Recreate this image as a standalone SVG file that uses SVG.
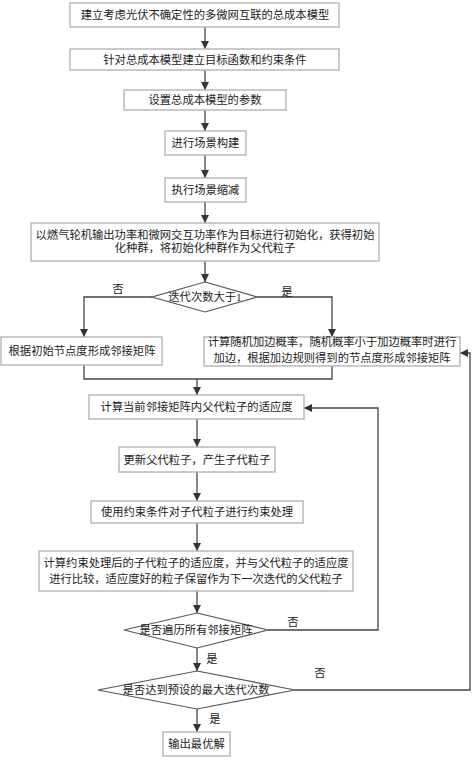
<svg xmlns="http://www.w3.org/2000/svg" width="474" height="760" viewBox="0 0 474 760">
<defs>
<style>
.box{fill:#fff;stroke:#b4b4b4;stroke-width:1.4}
.dia{fill:#fff;stroke:#555;stroke-width:1.2}
.t{font-family:"Liberation Serif","Noto Sans CJK SC",serif;font-size:11.3px;fill:#222;text-anchor:middle}
.c{fill:none;stroke:#444;stroke-width:1.3}
</style>
<marker id="ah" markerUnits="userSpaceOnUse" markerWidth="10" markerHeight="10" refX="8" refY="4" orient="auto">
<path d="M0,0 L8,4 L0,8 Z" fill="#333"/>
</marker>
</defs>
<rect width="474" height="760" fill="#fff"/>
<g id="connectors">
<path class="c" d="M205,27 V49" marker-end="url(#ah)"/>
<path class="c" d="M205,70 V90" marker-end="url(#ah)"/>
<path class="c" d="M205,110 V131" marker-end="url(#ah)"/>
<path class="c" d="M205,155 V178" marker-end="url(#ah)"/>
<path class="c" d="M205,202 V223" marker-end="url(#ah)"/>
<path class="c" d="M205,261 V282" marker-end="url(#ah)"/>
<path class="c" d="M152,297 H84 V337" marker-end="url(#ah)"/>
<path class="c" d="M257,297 H332 V337" marker-end="url(#ah)"/>
<path class="c" d="M84,365 V379 H332 V366"/>
<path class="c" d="M197,379 V395" marker-end="url(#ah)"/>
<path class="c" d="M197,419 V447" marker-end="url(#ah)"/>
<path class="c" d="M197,472 V501" marker-end="url(#ah)"/>
<path class="c" d="M197,523 V551" marker-end="url(#ah)"/>
<path class="c" d="M197,591 V613" marker-end="url(#ah)"/>
<path class="c" d="M197,648 V671" marker-end="url(#ah)"/>
<path class="c" d="M197,709 V732" marker-end="url(#ah)"/>
<path class="c" d="M268,630 H378 V408 H304" marker-end="url(#ah)"/>
<path class="c" d="M295,690 H470 V353 H460" marker-end="url(#ah)"/>
<text class="t" x="118" y="293">否</text>
<text class="t" x="287" y="296">是</text>
<text class="t" x="293" y="626">否</text>
<text class="t" x="212" y="663">是</text>
<text class="t" x="320" y="677">否</text>
<text class="t" x="215" y="723">是</text>
</g>
<g id="n1"><rect class="box" x="70" y="3" width="269" height="24"/><text class="t" x="205" y="19">建立考虑光伏不确定性的多微网互联的总成本模型</text></g>
<g id="n2"><rect class="box" x="70" y="49" width="269" height="21"/><text class="t" x="205" y="63.5">针对总成本模型建立目标函数和约束条件</text></g>
<g id="n3"><rect class="box" x="124" y="90" width="162" height="20"/><text class="t" x="205" y="104">设置总成本模型的参数</text></g>
<g id="n4"><rect class="box" x="165" y="131" width="81" height="24"/><text class="t" x="205.5" y="147">进行场景构建</text></g>
<g id="n5"><rect class="box" x="165" y="178" width="81" height="24"/><text class="t" x="205.5" y="194">执行场景缩减</text></g>
<g id="n6"><rect class="box" x="31" y="223" width="348" height="38"/><text class="t" x="205" y="239">以燃气轮机输出功率和微网交互功率作为目标进行初始化，获得初始</text><text class="t" x="205" y="252">化种群，将初始化种群作为父代粒子</text></g>
<g id="d1"><polygon class="dia" points="205,282 257,297 205,312 152,297"/><text class="t" x="205" y="301">迭代次数大于1</text></g>
<g id="n7"><rect class="box" x="1" y="337" width="161" height="28"/><text class="t" x="82" y="355">根据初始节点度形成邻接矩阵</text></g>
<g id="n8"><rect class="box" x="204" y="337" width="256" height="29"/><text class="t" x="332" y="346">计算随机加边概率，随机概率小于加边概率时进行</text><text class="t" x="332" y="362">加边，根据加边规则得到的节点度形成邻接矩阵</text></g>
<g id="n9"><rect class="box" x="89" y="395" width="215" height="24"/><text class="t" x="196.5" y="411">计算当前邻接矩阵内父代粒子的适应度</text></g>
<g id="n10"><rect class="box" x="119" y="447" width="156" height="25"/><text class="t" x="197" y="464">更新父代粒子，产生子代粒子</text></g>
<g id="n11"><rect class="box" x="91" y="501" width="212" height="22"/><text class="t" x="197" y="516">使用约束条件对子代粒子进行约束处理</text></g>
<g id="n12"><rect class="box" x="39" y="551" width="314" height="40"/><text class="t" x="196" y="567">计算约束处理后的子代粒子的适应度，并与父代粒子的适应度</text><text class="t" x="196" y="583">进行比较，适应度好的粒子保留作为下一次迭代的父代粒子</text></g>
<g id="d2"><polygon class="dia" points="197,613 268,630 197,648 124,630"/><text class="t" x="196" y="634">是否遍历所有邻接矩阵</text></g>
<g id="d3"><polygon class="dia" points="197,671 295,690 197,709 98,690"/><text class="t" x="196" y="694">是否达到预设的最大迭代次数</text></g>
<g id="n13"><rect class="box" x="163" y="732" width="67" height="24"/><text class="t" x="196.5" y="748">输出最优解</text></g>
</svg>
